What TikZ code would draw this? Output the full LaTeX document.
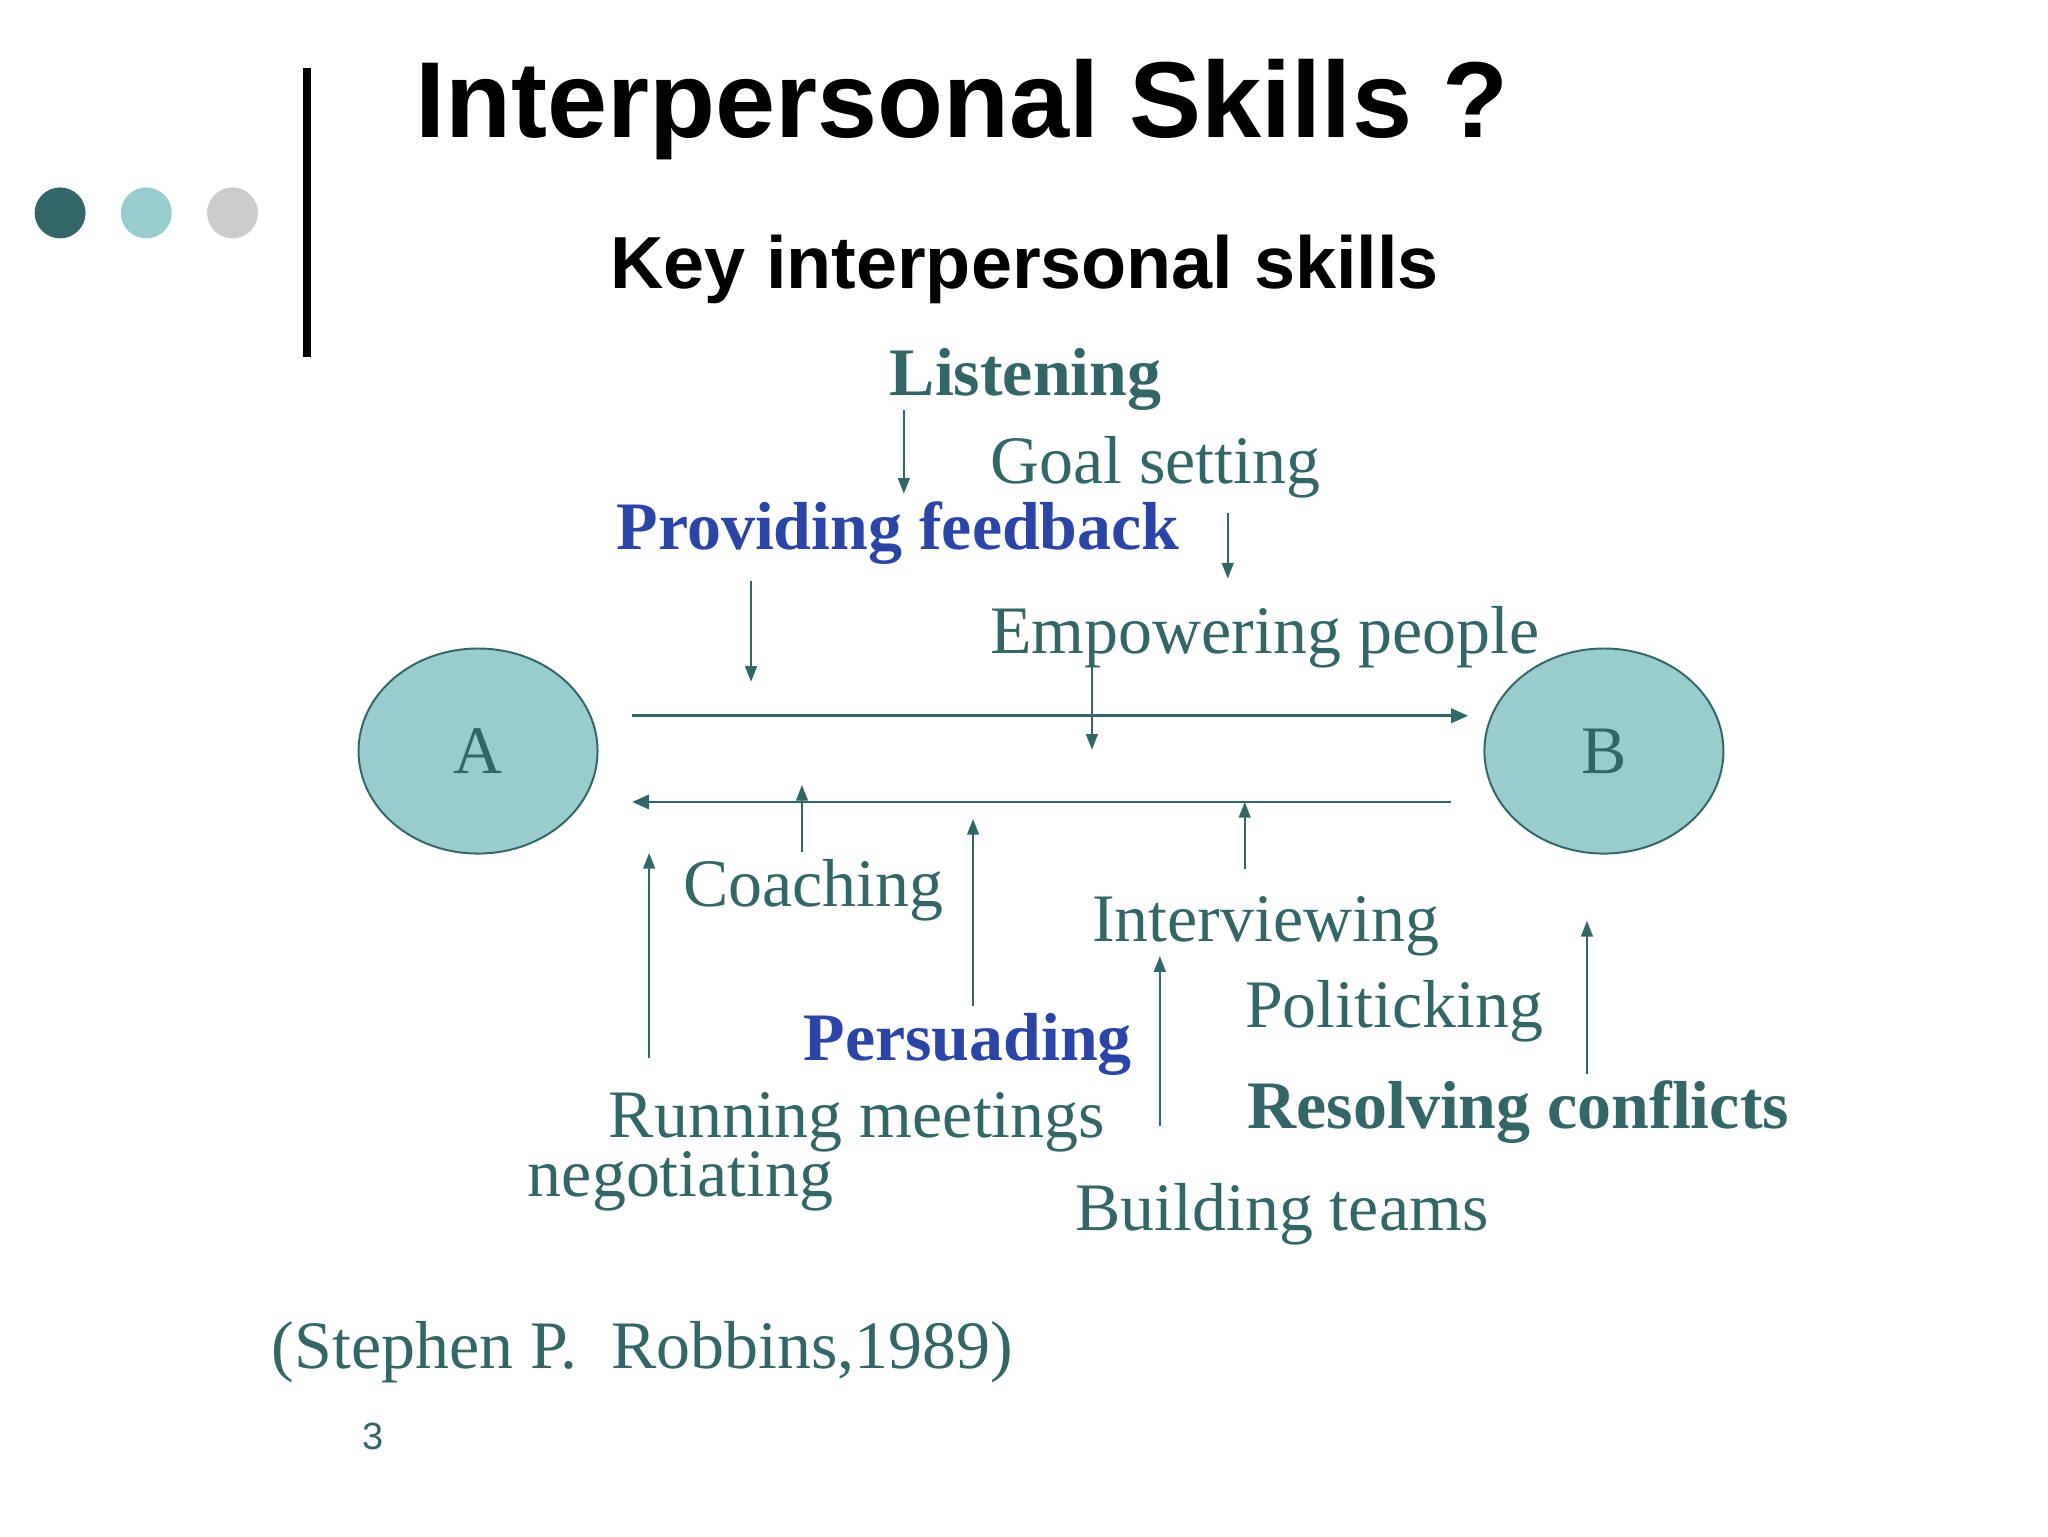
\documentclass[tikz,border=0pt]{standalone}
\usepackage{fontspec}
\setmainfont{Liberation Serif}
\newfontfamily\arialfont{Liberation Sans}
\usetikzlibrary{arrows.meta,shapes.geometric}
\definecolor{tealdk}{HTML}{336666}
\definecolor{teallt}{HTML}{99CCCC}
\definecolor{greylt}{HTML}{CCCCCC}
\definecolor{blueft}{HTML}{2B45A6}
\begin{document}
\begin{tikzpicture}[x=1pt,y=-1pt,
  lbl/.style={anchor=base west, inner sep=0pt, text=tealdk, font=\fontsize{52}{60}\selectfont},
  blbl/.style={lbl, font=\fontsize{52}{60}\selectfont\bfseries},
  bluelbl/.style={blbl, text=blueft},
  arr/.style={draw=tealdk, line width=1.5pt, -{Triangle[length=12pt,width=9pt]}},
  mainarr/.style={draw=tealdk, line width=2pt, -{Triangle[length=13pt,width=11pt]}},
  person/.style={ellipse, draw=tealdk, line width=1.5pt, fill=teallt, inner sep=0pt,
    minimum width=183pt, minimum height=157pt, text=tealdk, font=\fontsize{52}{60}\selectfont}]
\useasboundingbox (0,0) rectangle (1568,1176);
% decoration
\fill[tealdk] (46,163) circle (19.5);
\fill[teallt] (112,163) circle (19.5);
\fill[greylt] (178,163) circle (19.5);
\draw[line width=5.5pt] (235,52) -- (235,273);
% titles
\node[anchor=base west, inner sep=0pt, font=\arialfont\bfseries\fontsize{82.7}{90}\selectfont] (title) at (318,105) {Interpersonal Skills ?};
\node[anchor=base west, inner sep=0pt, font=\arialfont\bfseries\fontsize{56.5}{64}\selectfont] (subtitle) at (467,220.5) {Key interpersonal skills};
% persons
\node[person] (A) at (366,575) {A};
\node[person] (B) at (1228,575) {B};
% main arrows
\coordinate (topL) at (484,548);
\coordinate (topR) at (1124,548);
\coordinate (botR) at (1111,614);
\coordinate (botL) at (484,614);
\draw[mainarr] (topL) -- (topR);
\draw[mainarr] (botR) -- (botL);
% labels
\node[blbl] (listen) at (681,303) {Listening};
\node[lbl] (goal) at (758,370) {Goal setting};
\node[bluelbl] (feedback) at (472,421) {Providing feedback};
\node[lbl] (empower) at (758,500) {Empowering people};
\node[lbl] (coach) at (523,694) {Coaching};
\node[lbl] (interview) at (836,721) {Interviewing};
\node[lbl] (politick) at (953,787) {Politicking};
\node[bluelbl] (persuade) at (615,812) {Persuading};
\node[blbl] (resolve) at (955,864) {Resolving conflicts};
\node[lbl] (running) at (466,871) {Running meetings};
\node[lbl] (negot) at (404,916) {negotiating};
\node[lbl] (building) at (823,942) {Building teams};
\node[lbl] (cite) at (208,1048) {(Stephen P.\ \ Robbins,1989)};
\node[anchor=base west, inner sep=0pt, text=tealdk, font=\arialfont\fontsize{29}{34}\selectfont] (page) at (277,1110) {3};
% skill arrows (downwards)
\coordinate (l1) at (692,314); \coordinate (l2) at (692,378);
\coordinate (g1) at (940,393); \coordinate (g2) at (940,443);
\coordinate (f1) at (575,445); \coordinate (f2) at (575,522);
\coordinate (e1) at (836,500); \coordinate (e2) at (836,574);
\draw[arr] (l1) -- (l2);
\draw[arr] (g1) -- (g2);
\draw[arr] (f1) -- (f2);
\draw[arr] (e1) -- (e2);
% skill arrows (upwards)
\coordinate (c1) at (614,652); \coordinate (c2) at (614,601);
\coordinate (p1) at (745,770); \coordinate (p2) at (745,627);
\coordinate (r1) at (497,810); \coordinate (r2) at (497,653);
\coordinate (i1) at (953,665); \coordinate (i2) at (953,614);
\coordinate (b1) at (888,862); \coordinate (b2) at (888,732);
\coordinate (s1) at (1215,822); \coordinate (s2) at (1215,705);
\draw[arr] (c1) -- (c2);
\draw[arr] (p1) -- (p2);
\draw[arr] (r1) -- (r2);
\draw[arr] (i1) -- (i2);
\draw[arr] (b1) -- (b2);
\draw[arr] (s1) -- (s2);
\end{tikzpicture}
\end{document}
